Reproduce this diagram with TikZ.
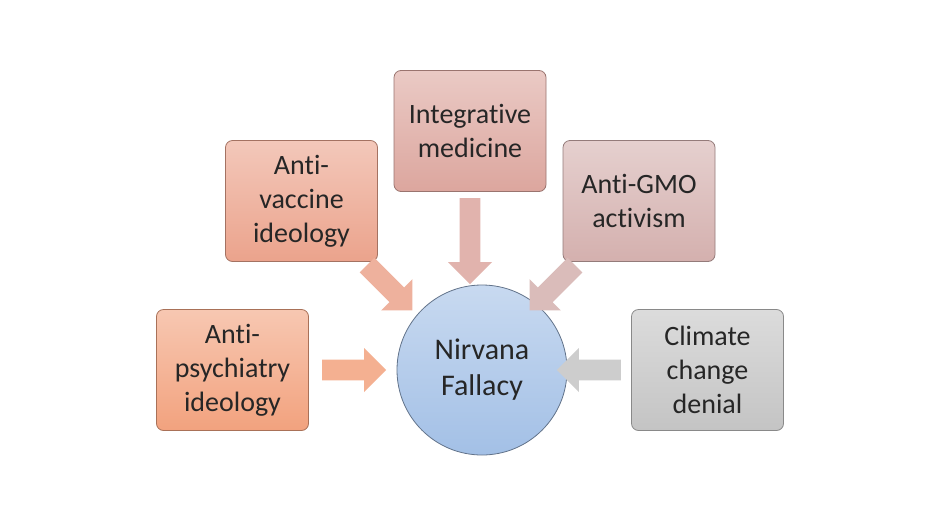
\documentclass[tikz,border=0pt]{standalone}
\usepackage{fontspec}
\setmainfont[RawFeature=-liga]{Carlito}
\usetikzlibrary{shapes.arrows,calc}
\begin{document}
\begin{tikzpicture}[x=1pt,y=-1pt,
  box/.style={draw=#1!70!black, rounded corners=7pt, minimum width=152pt, minimum height=121pt, align=center, font=\fontsize{28}{34}\selectfont, text=black!85, top color=#1!60!white, bottom color=#1, line width=0.8pt},
  barrow/.style={single arrow, fill=#1, draw=none, minimum width=44pt, single arrow head extend=8pt, single arrow tip angle=90, inner sep=7pt}]
\useasboundingbox (0,0) rectangle (941,525);
\fill[white] (0,0) rectangle (941,525);
\definecolor{c1}{HTML}{F2A27E}
\definecolor{c2}{HTML}{EBA38C}
\definecolor{c3}{HTML}{DCA69E}
\definecolor{c4}{HTML}{D4B0AE}
\definecolor{c5}{HTML}{C4C4C4}
\definecolor{cb}{HTML}{A3C0E6}
\node[box=c1] (psy) at (232.5,370) {Anti-\\psychiatry\\ideology};
\node[box=c2] (vac) at (301.5,201) {Anti-\\vaccine\\ideology};
\node[box=c3] (int) at (470,131) {Integrative\\medicine};
\node[box=c4] (gmo) at (639,201) {Anti-GMO\\activism};
\node[box=c5] (cli) at (707.5,370) {Climate\\change\\denial};
\node[circle, draw=cb!60!black, line width=0.8pt, minimum size=170pt, top color=cb!60!white, bottom color=cb, align=center, font=\fontsize{30}{36}\selectfont, text=black!85] (nf) at (482,370) {Nirvana\\Fallacy};
\node[barrow=c1!85!white, minimum height=64pt] (a1) at (349,370) {};
\node[barrow=c5!85!white, minimum height=64pt, shape border rotate=180] (a5) at (594,370) {};
\node[barrow=c3!85!white, minimum height=86pt, shape border rotate=270] (a3) at (470,236) {};
\node[barrow=c2!85!white, minimum height=64pt, rotate=-45] (a2) at (386,284) {};
\node[barrow=c4!85!white, minimum height=64pt, rotate=225] (a4) at (556,284) {};
\end{tikzpicture}
\end{document}
